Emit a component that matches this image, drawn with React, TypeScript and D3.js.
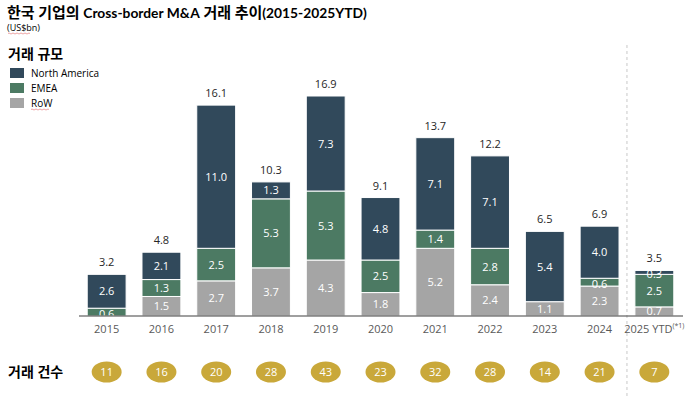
import React from "react";
import * as d3 from "d3";

const years = ["2015", "2016", "2017", "2018", "2019", "2020", "2021", "2022", "2023", "2024", "2025"];
const rowValues = [0, 1.5, 2.7, 3.7, 4.3, 1.8, 5.2, 2.4, 1.1, 2.3, 0.7];
const emeaValues = [0.6, 1.3, 2.5, 5.3, 5.3, 2.5, 1.4, 2.8, 0, 0.6, 2.5];
const naValues = [2.6, 2.1, 11.0, 1.3, 7.3, 4.8, 7.1, 7.1, 5.4, 4.0, 0.3];
const totals = [3.2, 4.8, 16.1, 10.3, 16.9, 9.1, 13.7, 12.2, 6.5, 6.9, 3.5];
const dealCounts = [11, 16, 20, 28, 43, 23, 32, 28, 14, 21, 7];

const seriesNames = ["RoW", "EMEA", "North America"];
const colors: Record<string, string> = {
  "North America": "#31495b",
  EMEA: "#4c7a63",
  RoW: "#a5a5a5",
};

const font = "'Open Sans', 'Noto Sans CJK KR', sans-serif";
const titleFont = "Lato, 'Noto Sans CJK KR', sans-serif";

export default function App() {
  const W = 700;
  const H = 399;
  const x = d3.scaleBand<string>().domain(years).range([79, 682]).paddingInner(0.29).paddingOuter(0.15);
  const y = d3.scaleLinear().domain([0, 16.9]).range([316, 96]);

  const rows = years.map((yr, i) => ({ year: yr, RoW: rowValues[i], EMEA: emeaValues[i], "North America": naValues[i] }));
  const stacked = d3.stack<any>().keys(seriesNames)(rows);
  const bw = x.bandwidth();
  const dashX = ((x("2024") ?? 0) + bw + (x("2025") ?? 0)) / 2;

  return (
    <svg width={W} height={H} style={{ position: "absolute", left: 0, top: 0 }} fontFamily={font}>
      <rect width={W} height={H} fill="#fff" />
      {/* title */}
      <text x={7} y={18} fontSize={15} fontWeight="bold" fill="#000" fontFamily={titleFont}>
        한국 기업의 <tspan fontSize={13.8}>Cross-border M&amp;A</tspan> 거래 추이<tspan fontSize={13.8}>(2015-2025YTD)</tspan>
      </text>
      <text x={7} y={31} fontSize={9} fill="#000">(US$bn)</text>
      <path d="M8,33.5 q1,-1 2,0 t2,0 t2,0 t2,0 t2,0 t2,0 t2,0 t2,0 t2,0 t2,0 t2,0" fill="none" stroke="#e06666" strokeWidth={0.6} />
      <text x={8} y={59} fontSize={14} fontWeight="bold" fill="#000">거래 규모</text>

      {/* legend */}
      {["North America", "EMEA", "RoW"].map((k, i) => (
        <g key={k} transform={`translate(10, ${68 + i * 15})`}>
          <rect width={14} height={10} fill={colors[k]} />
          <text x={21} y={8.5} fontSize={10} fill="#000">{k}</text>
        </g>
      ))}
      <path d="M31,109.5 q1,-1 2,0 t2,0 t2,0 t2,0 t2,0 t2,0 t2,0 t2,0 t2,0" fill="none" stroke="#e06666" strokeWidth={0.6} />

      {/* dashed separator */}
      <line x1={dashX} x2={dashX} y1={45} y2={H} stroke="#c8c8c8" strokeDasharray="3,3" />

      {/* bars */}
      {stacked.map((s) => (
        <g key={s.key}>
          {s.map((d, i) => {
            if (d[1] - d[0] <= 0) return null;
            return (
              <rect key={i} x={x(years[i]) ?? 0} y={y(d[1])} width={bw} height={y(d[0]) - y(d[1])}
                fill={colors[s.key]} stroke="#fff" strokeWidth={1} />
            );
          })}
        </g>
      ))}
      {/* segment labels on top of all bars */}
      {stacked.map((s) => (
        <g key={"l" + s.key}>
          {s.map((d, i) => {
            const v = d[1] - d[0];
            if (v <= 0) return null;
            const h = y(d[0]) - y(d[1]);
            const cy = y(d[1]) + h / 2 + (h < 8 ? 2 : 0);
            return (
              <text key={i} x={(x(years[i]) ?? 0) + bw / 2} y={cy + 4} textAnchor="middle" fontSize={11} fill="#fff">
                {v.toFixed(1)}
              </text>
            );
          })}
        </g>
      ))}

      {/* totals */}
      {years.map((yr, i) => {
        const top = y(rowValues[i] + emeaValues[i] + naValues[i]);
        return (
          <text key={yr} x={(x(yr) ?? 0) + bw / 2} y={top - 8} textAnchor="middle" fontSize={11} fill="#262626">
            {totals[i].toFixed(1)}
          </text>
        );
      })}

      {/* axis */}
      <line x1={79} x2={683} y1={316} y2={316} stroke="#404040" strokeWidth={1.2} />
      {years.map((yr) => (
        <text key={yr} x={(x(yr) ?? 0) + bw / 2} y={333} textAnchor="middle" fontSize={11} fill="#595959">
          {yr === "2025" ? (
            <>
              2025 YTD<tspan fontSize={7} dy={-5}>(*1)</tspan>
            </>
          ) : (
            yr
          )}
        </text>
      ))}

      {/* deal counts */}
      <text x={8} y={377} fontSize={14} fontWeight="bold" fill="#000">거래 건수</text>
      {years.map((yr, i) => {
        const cx = (x(yr) ?? 0) + bw / 2;
        return (
          <g key={yr}>
            <ellipse cx={cx} cy={372} rx={15} ry={10.5} fill="#c9a83a" />
            <text x={cx} y={376} textAnchor="middle" fontSize={11} fill="#fff">{dealCounts[i]}</text>
          </g>
        );
      })}
    </svg>
  );
}
